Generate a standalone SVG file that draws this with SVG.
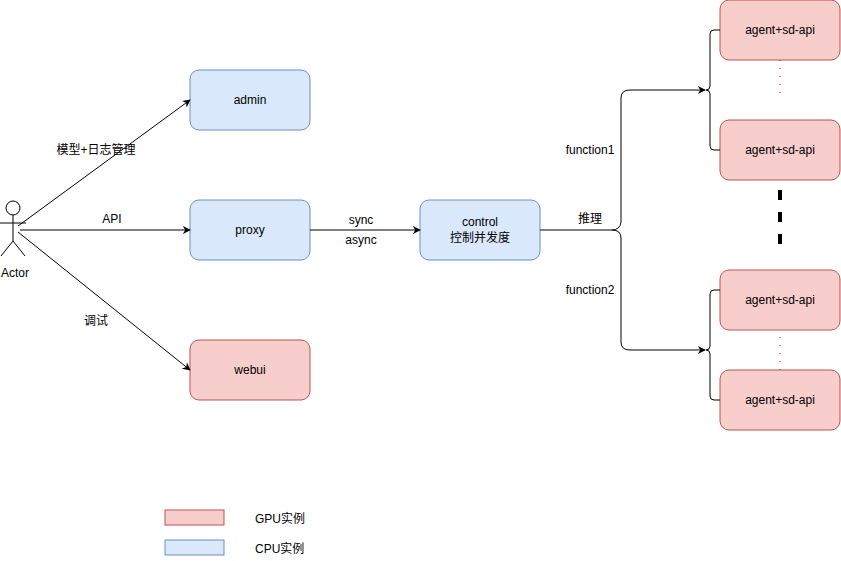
<svg xmlns="http://www.w3.org/2000/svg" width="841" height="561" viewBox="0 0 841 561">
<style>
text{font-family:"Liberation Sans",Arial,"Noto Sans CJK SC",sans-serif;font-size:12px;fill:#000}
.b{fill:#dae8fc;stroke:#6c8ebf;stroke-width:1}
.r{fill:#f8cecc;stroke:#b85450;stroke-width:1}
.c{fill:none;stroke:#000;stroke-width:1}
.m{text-anchor:middle}
</style>
<defs><marker id="a" viewBox="0 0 10 10" refX="9" refY="5" markerWidth="8" markerHeight="8" orient="auto" markerUnits="userSpaceOnUse"><path d="M0,0 L10,5 L0,10 L3,5 Z" fill="#000"/></marker></defs>
<rect width="841" height="561" fill="#fff"/>
<g id="actor" fill="none" stroke="#000">
<circle cx="13" cy="208" r="7" fill="#fff"/>
<path d="M13,215 V241 M0,223 H26 M13,241 L1,256 M13,241 L25,256"/>
<text x="15" y="277" class="m" stroke="none">Actor</text>
</g>
<g id="admin"><rect class="b" x="190" y="70" width="120" height="60" rx="9"/><text x="250" y="104" class="m">admin</text></g>
<g id="proxy"><rect class="b" x="190" y="200" width="120" height="60" rx="9"/><text x="250" y="234" class="m">proxy</text></g>
<g id="webui"><rect class="r" x="190" y="340" width="120" height="60" rx="9"/><text x="250" y="374" class="m">webui</text></g>
<g id="control"><rect class="b" x="420" y="200" width="120" height="60" rx="9"/><text x="480" y="226" class="m">control</text><text x="480" y="242" class="m">控制并发度</text></g>
<g id="agent1"><rect class="r" x="720" y="0" width="120" height="60" rx="9"/><text x="780" y="34" class="m">agent+sd-api</text></g>
<g id="agent2"><rect class="r" x="720" y="120" width="120" height="60" rx="9"/><text x="780" y="154" class="m">agent+sd-api</text></g>
<g id="agent3"><rect class="r" x="720" y="270" width="120" height="60" rx="9"/><text x="780" y="304" class="m">agent+sd-api</text></g>
<g id="agent4"><rect class="r" x="720" y="370" width="120" height="60" rx="9"/><text x="780" y="404" class="m">agent+sd-api</text></g>
<g id="connectors">
<path class="c" d="M18,226 L190,100" marker-end="url(#a)"/>
<path class="c" d="M20,230 H190" marker-end="url(#a)"/>
<path class="c" d="M18,232 L190,370" marker-end="url(#a)"/>
<path class="c" d="M310,230 H420" marker-end="url(#a)"/>
<path class="c" d="M540,230 H612 Q620,230 621,222 V98 Q621,90 630,90 H705" marker-end="url(#a)"/>
<path class="c" d="M612,230 Q621,230 621,238 V342 Q621,350 630,350 H705" marker-end="url(#a)"/>
<path class="c" d="M720,30 H714 Q710,30 710,34 V86 Q710,90 706,90 Q710,90 710,94 V146 Q710,150 714,150 H720"/>
<path class="c" d="M720,290 H714 Q710,290 710,294 V346 Q710,350 706,350 Q710,350 710,354 V396 Q710,400 714,400 H720"/>
<path d="M780,60 V100" stroke="#b85450" stroke-dasharray="1,7" stroke-width="1.5" fill="none"/>
<path d="M780,337 V370" stroke="#b85450" stroke-dasharray="1,7" stroke-width="1.5" fill="none"/>
<path d="M780,190 V250" stroke="#000" stroke-dasharray="10,12" stroke-width="4" fill="none"/>
</g>
<g id="labels">
<text x="96" y="154" class="m">模型+日志管理</text>
<text x="112" y="223" class="m">API</text>
<text x="96" y="325" class="m">调试</text>
<text x="361" y="224" class="m">sync</text>
<text x="361" y="244" class="m">async</text>
<text x="590" y="223" class="m">推理</text>
<text x="590" y="154" class="m">function1</text>
<text x="590" y="294" class="m">function2</text>
</g>
<g id="legend">
<rect class="r" x="165" y="510" width="59" height="15"/><text x="255" y="523">GPU实例</text>
<rect class="b" x="165" y="540" width="59" height="15"/><text x="255" y="553">CPU实例</text>
</g>
</svg>
